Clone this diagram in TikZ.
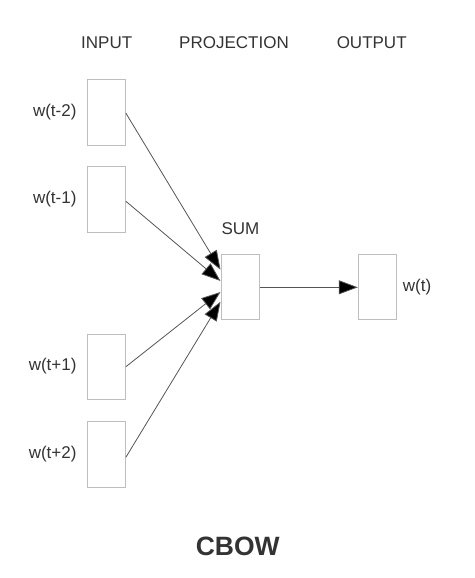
\documentclass[tikz,border=0pt]{standalone}
\usepackage{fontspec}
\setmainfont{Liberation Sans}
\usetikzlibrary{arrows.meta,calc}
\definecolor{boxgray}{HTML}{BEBEBE}
\definecolor{linegray}{HTML}{555555}
\definecolor{txtgray}{HTML}{333333}
\begin{document}
\begin{tikzpicture}[x=1pt,y=-1pt,
  unit/.style={draw=boxgray,line width=0.9pt,minimum width=38.5pt,minimum height=65.5pt,inner sep=0pt},
  lbl/.style={text=txtgray,font=\fontsize{17}{20}\selectfont,inner sep=0pt},
  conn/.style={draw=linegray,line width=0.8pt,-{Triangle[length=19pt,width=14pt,fill=black]}}]
\useasboundingbox (0,0) rectangle (474,578);
% headers
\node[lbl] (hin) at (106.7,43) {INPUT};
\node[lbl] (hproj) at (234,43) {PROJECTION};
\node[lbl] (hout) at (371.7,43) {OUTPUT};
% input boxes
\node[unit] (i1) at (106.2,112.2) {};
\node[unit] (i2) at (106.2,199.5) {};
\node[unit] (i3) at (106.2,366.7) {};
\node[unit] (i4) at (106.2,454.2) {};
\node[lbl,anchor=east] (l1) at (76.7,112) {w(t-2)};
\node[lbl,anchor=east] (l2) at (76.7,199.5) {w(t-1)};
\node[lbl,anchor=east] (l3) at (76.7,366.5) {w(t+1)};
\node[lbl,anchor=east] (l4) at (76.7,454) {w(t+2)};
% sum box
\node[unit] (sum) at (240.2,286.7) {};
\node[lbl] (sumlbl) at (240.5,228.3) {SUM};
% output box
\node[unit] (out) at (377.5,286.7) {};
\node[lbl,anchor=west] (outlbl) at (402.7,287.3) {w(t)};
\node[text=txtgray,font=\bfseries\fontsize{26.5}{30}\selectfont,inner sep=0pt] (title) at (237.7,546.3) {CBOW};
% arrow end points on the sum box
\coordinate (s1) at ([yshift=17pt]sum.west);
\coordinate (s2) at ([yshift=5.7pt]sum.west);
\coordinate (s3) at ([yshift=-5.3pt]sum.west);
\coordinate (s4) at ([yshift=-15pt]sum.west);
\draw[conn] ([yshift=-1pt]i1.east) -- (s1);
\draw[conn] ([yshift=-1.8pt]i2.east) -- (s2);
\draw[conn] (i3.east) -- (s3);
\draw[conn] ([yshift=-3pt]i4.east) -- (s4);
\draw[conn] ([yshift=-0.6pt]sum.east) -- ([yshift=-0.6pt]out.west);
\end{tikzpicture}
\end{document}
